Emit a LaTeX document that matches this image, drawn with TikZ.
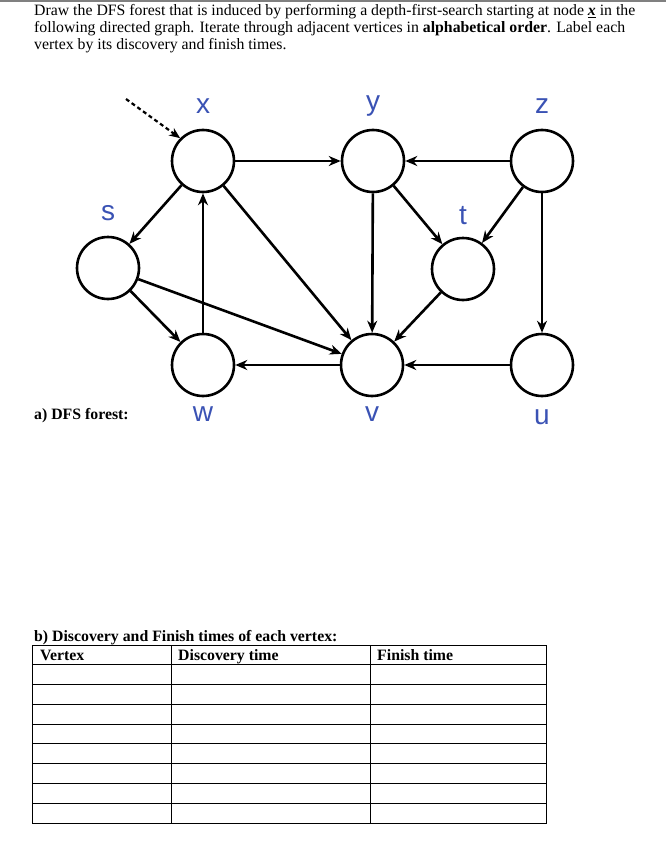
\documentclass[tikz,border=0pt]{standalone}
\usepackage{fontspec}
\setmainfont{Liberation Serif}
\newfontfamily\lblfont{Liberation Sans}
\usetikzlibrary{arrows.meta}
\definecolor{lblblue}{HTML}{3A52B4}
\begin{document}
\begin{tikzpicture}[x=1pt,y=-1pt,
  vtx/.style={circle,draw,line width=2.6pt,minimum size=62pt,inner sep=0pt},
  lbl/.style={text=lblblue,font=\lblfont\fontsize{28}{28}\selectfont,inner sep=0pt},
  edge/.style={line width=2.6pt,-{Stealth[length=12pt,width=10pt]}},
  txt/.style={anchor=base west,inner sep=0pt,font=\fontsize{15.8}{18}\selectfont},
  cell/.style={anchor=base west,inner sep=0pt,font=\bfseries\fontsize{15.8}{18}\selectfont}]
\useasboundingbox (0,0) rectangle (666,856);
\draw[gray,line width=2pt] (0,1) -- (666,1);
\node[txt] (l1) at (34,16) {Draw the DFS forest that is induced by performing a depth-first-search starting at node \underline{\textbf{\textit{x}}} in the};
\node[txt] (l2) at (34,33) {following directed graph. Iterate through adjacent vertices in \textbf{alphabetical order}. Label each};
\node[txt] (l3) at (34,50) {vertex by its discovery and finish times.};
% vertices
\node[vtx] (x) at (203,161) {};
\node[vtx] (y) at (373,161) {};
\node[vtx] (z) at (542,161) {};
\node[vtx] (s) at (108,268) {};
\node[vtx] (t) at (463,269) {};
\node[vtx] (w) at (203,365) {};
\node[vtx] (v) at (372,365) {};
\node[vtx] (u) at (542,365) {};
\node[lbl] (lx) at (203,106) {x};
\node[lbl] (ly) at (373,106) {y};
\node[lbl] (lz) at (542,106) {z};
\node[lbl] (ls) at (108,213) {s};
\node[lbl] (lt) at (463,216) {t};
\node[lbl] (lw) at (203,414) {w};
\node[lbl] (lv) at (372,414) {v};
\node[lbl] (lu) at (542,417) {u};
\coordinate (st) at (126,99);
\draw[line width=2.2pt,dash pattern=on 4pt off 3pt,-{Stealth[length=11pt,width=9pt]}] (st) -- (x.135);
\draw[edge] (x) -- (y);
\draw[edge] (z) -- (y);
\draw[edge] (x) -- (s);
\draw[edge] (x) -- (v);
\draw[edge] (w) -- (x);
\draw[edge] (s) -- (w);
\draw[edge] (s) -- (v);
\draw[edge] (y) -- (v);
\draw[edge] (y) -- (t);
\draw[edge] (z) -- (t);
\draw[edge] (z) -- (u);
\draw[edge] (t) -- (v);
\draw[edge] (v) -- (w);
\draw[edge] (u) -- (v);
\node[cell] (fa) at (34,419) {a) DFS forest:};
\node[cell] (fb) at (34,641) {b) Discovery and Finish times of each vertex:};
% table
\draw[line width=1pt] (32.5,645) rectangle (546,823);
\foreach \r in {1,...,8} \draw[line width=1pt] (32.5,645+19.78*\r) -- (546,645+19.78*\r);
\draw[line width=1pt] (171,645) -- (171,823);
\draw[line width=1pt] (370,645) -- (370,823);
\node[cell] (c1) at (40,660) {Vertex};
\node[cell] (c2) at (178,660) {Discovery time};
\node[cell] (c3) at (377,660) {Finish time};
\end{tikzpicture}
\end{document}
